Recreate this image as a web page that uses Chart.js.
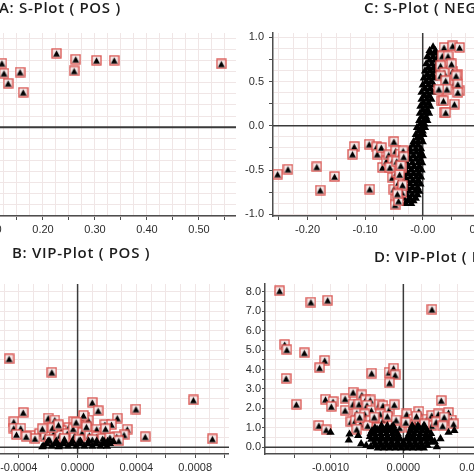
<!DOCTYPE html>
<html>
<head>
<meta charset="utf-8">
<script src="https://cdn.jsdelivr.net/npm/chart.js@4.4.1/dist/chart.umd.min.js"></script>
<style>
  html, body { margin: 0; padding: 0; background: #fff; }
  #page { position: relative; width: 474px; height: 474px; overflow: hidden; background: #fff; }
  canvas { position: absolute; }
  .title { position: absolute; font-family: "Open Sans", sans-serif; font-weight: 600; font-size: 15px; line-height: 15px; letter-spacing: 0.7px; color: #1c1c1c; white-space: nowrap; }
</style>
</head>
<body>
<div id="page">
  <canvas id="cvA" width="379" height="246" style="left:-143px;top:0px"></canvas>
  <canvas id="cvC" width="256" height="246" style="left:238px;top:0px"></canvas>
  <canvas id="cvB" width="299" height="244" style="left:-70px;top:240px"></canvas>
  <canvas id="cvD" width="261" height="244" style="left:235px;top:240px"></canvas>
  <div class="title" id="tA" style="left:-1px;top:0px"></div>
  <div class="title" id="tC" style="left:364px;top:0px"></div>
  <div class="title" id="tB" style="left:12px;top:245px"></div>
  <div class="title" id="tD" style="left:374px;top:249px"></div>
</div>
<script>
// panel titles (C and D run past the right edge of the picture)
const titles = ["A: S-Plot ( POS )", "B: VIP-Plot ( POS )", "C: S-Plot ( NEG )", "D: VIP-Plot ( NEG )"];

// A: S-plot POS, marked variables [p, p(corr)]
const aMarked = [
  [0.121, 0.72], [0.125, 0.607], [0.133, 0.494], [0.156, 0.62], [0.162, 0.393],
  [0.226, 0.832], [0.263, 0.765], [0.260, 0.633], [0.303, 0.753], [0.337, 0.753], [0.543, 0.712]
];

// C: S-plot NEG
const cMarked = [
  [-0.252, -0.546], [-0.234, -0.49], [-0.184, -0.464], [-0.178, -0.727], [-0.153, -0.573],
  [-0.119, -0.234], [-0.122, -0.32], [-0.093, -0.207], [-0.092, -0.716],
  [-0.080, -0.238], [-0.079, -0.32], [-0.072, -0.245], [-0.070, -0.47], [-0.063, -0.396], [-0.059, -0.328],
  [-0.050, -0.178], [-0.047, -0.283], [-0.052, -0.396], [-0.053, -0.585], [-0.045, -0.528], [-0.050, -0.716],
  [-0.042, -0.641], [-0.047, -0.83], [-0.048, -0.894], [-0.036, -0.754], [-0.039, -0.32], [-0.034, -0.283],
  [-0.036, -0.47], [-0.057, -0.47], [-0.042, -0.85], [-0.045, -0.40], [-0.040, -0.55], [-0.035, -0.67],
  [-0.038, -0.45], [-0.044, -0.77], [-0.033, -0.35],
  [0.037, 0.886], [0.052, 0.905], [0.064, 0.886], [0.034, 0.79], [0.046, 0.70], [0.031, 0.68],
  [0.052, 0.62], [0.037, 0.60], [0.031, 0.566], [0.040, 0.51], [0.061, 0.577], [0.056, 0.49],
  [0.042, 0.415], [0.028, 0.415], [0.033, 0.283], [0.055, 0.245], [0.037, 0.15], [0.064, 0.396],
  [0.044, 0.79], [0.050, 0.70], [0.058, 0.566], [0.061, 0.47], [0.036, 0.283], [0.040, 0.15], [0.061, 0.377]
];
const cBlack = [
  [0.018, 0.89],
  [0.012, 0.85], [0.022, 0.85], [0.013, 0.82], [0.023, 0.82],
  [0.008, 0.78], [0.018, 0.78], [0.027, 0.78], [0.012, 0.74], [0.021, 0.74],
  [0.006, 0.70], [0.016, 0.70], [0.025, 0.70], [0.010, 0.66], [0.019, 0.66],
  [0.004, 0.62], [0.013, 0.62], [0.022, 0.62], [0.008, 0.58], [0.017, 0.58],
  [0.002, 0.54], [0.011, 0.54], [0.020, 0.54], [0.006, 0.50], [0.015, 0.50],
  [0.000, 0.46], [0.010, 0.46], [0.019, 0.46], [0.004, 0.42], [0.013, 0.42],
  [-0.002, 0.38], [0.008, 0.38], [0.017, 0.38], [0.003, 0.34], [0.011, 0.34],
  [-0.002, 0.30], [0.007, 0.30], [0.015, 0.30], [0.001, 0.26], [0.010, 0.26],
  [-0.004, 0.22], [0.005, 0.22], [0.013, 0.22], [0.000, 0.18], [0.008, 0.18],
  [-0.005, 0.14], [0.004, 0.14], [0.011, 0.14], [-0.002, 0.10], [0.006, 0.10],
  [-0.006, 0.06], [0.002, 0.06], [0.008, 0.06], [-0.004, 0.02], [0.003, 0.02],
  [-0.010, -0.02], [-0.002, -0.02], [0.004, -0.02], [-0.007, -0.06], [0.000, -0.06],
  [-0.012, -0.10], [-0.004, -0.10], [0.001, -0.10], [-0.010, -0.14], [-0.003, -0.14],
  [-0.016, -0.18], [-0.008, -0.18], [0.000, -0.18], [-0.017, -0.22], [-0.008, -0.22],
  [-0.022, -0.26], [-0.012, -0.26], [-0.003, -0.26], [-0.021, -0.30], [-0.011, -0.30], [-0.003, -0.30],
  [-0.026, -0.34], [-0.016, -0.34], [-0.006, -0.34], [0.000, -0.34],
  [-0.022, -0.38], [-0.012, -0.38], [-0.004, -0.38],
  [-0.028, -0.42], [-0.018, -0.42], [-0.008, -0.42], [-0.001, -0.42],
  [-0.025, -0.46], [-0.015, -0.46], [-0.006, -0.46],
  [-0.030, -0.50], [-0.020, -0.50], [-0.010, -0.50], [-0.002, -0.50],
  [-0.026, -0.54], [-0.016, -0.54], [-0.007, -0.54],
  [-0.031, -0.58], [-0.021, -0.58], [-0.011, -0.58], [-0.003, -0.58],
  [-0.027, -0.62], [-0.017, -0.62], [-0.008, -0.62],
  [-0.032, -0.66], [-0.022, -0.66], [-0.012, -0.66], [-0.004, -0.66],
  [-0.028, -0.70], [-0.018, -0.70], [-0.009, -0.70],
  [-0.033, -0.74], [-0.023, -0.74], [-0.013, -0.74], [-0.006, -0.74],
  [-0.028, -0.78], [-0.018, -0.78], [-0.009, -0.78],
  [-0.033, -0.82], [-0.022, -0.82], [-0.012, -0.82],
  [-0.026, -0.85], [-0.016, -0.85],
  [-0.030, -0.88], [-0.020, -0.88]
];

// B: VIP-plot POS [p, VIP]
const bMarked = [
  [-4.66e-4, 4.55], [-1.75e-4, 3.86], [1.0e-4, 2.31], [1.4e-4, 1.88], [7.88e-4, 2.43], [3.97e-4, 1.96],
  [-3.7e-4, 1.79], [-4.34e-4, 1.31], [-4.34e-4, 0.98], [-3.87e-4, 0.98], [-4.16e-4, 0.66],
  [-2.0e-4, 1.50], [-1.55e-4, 1.40], [-0.25e-4, 1.33], [0.04e-4, 1.28], [0.5e-4, 1.54], [0.72e-4, 1.40],
  [2.7e-4, 1.50], [1.86e-4, 1.17], [2.3e-4, 1.17], [3.38e-4, 0.93], [3.16e-4, 0.64], [2.66e-4, 0.54],
  [2.8e-4, 0.33], [4.6e-4, 0.54], [9.17e-4, 0.43], [-0.6e-4, 1.02], [-1.1e-4, 0.85], [1.3e-4, 0.93],
  [1.8e-4, 0.76], [-3.2e-4, 0.60], [-2.6e-4, 0.70], [-2.2e-4, 0.55], [-1.6e-4, 0.75], [-1.2e-4, 0.60],
  [-0.7e-4, 0.70], [-0.2e-4, 0.60], [0.3e-4, 0.75], [0.8e-4, 0.62], [1.3e-4, 0.55], [-2.9e-4, 0.45],
  [-1.9e-4, 0.40], [-0.9e-4, 0.45], [0.1e-4, 0.40], [1.0e-4, 0.40], [1.7e-4, 0.45], [2.2e-4, 0.50],
  [-2.4e-4, 0.95], [-1.7e-4, 1.0], [0.6e-4, 1.05], [-0.3e-4, 0.95], [1.9e-4, 0.95], [-3.5e-4, 0.55],
  [-1.3e-4, 1.15], [0.4e-4, 1.64], [-0.1e-4, 1.29]
];
const bBlack = [
  [-2.4e-4, 0.02], [2.43e-4, 0.29], [2.04e-4, 0.29], [-1.3e-4, 0.02],
  [-2.3e-4, 0.05], [-1.75e-4, 0.05], [-1.2e-4, 0.05], [-0.65e-4, 0.05], [-0.1e-4, 0.05],
  [0.45e-4, 0.05], [1.0e-4, 0.05], [1.55e-4, 0.05], [2.0e-4, 0.05],
  [-2.1e-4, 0.18], [-1.5e-4, 0.18], [-0.95e-4, 0.18], [-0.4e-4, 0.18], [0.15e-4, 0.18],
  [0.7e-4, 0.18], [1.25e-4, 0.18], [1.75e-4, 0.18], [2.2e-4, 0.18],
  [-2.0e-4, 0.3], [-1.45e-4, 0.3], [-0.9e-4, 0.3], [-0.35e-4, 0.3], [0.2e-4, 0.3],
  [0.75e-4, 0.3], [1.3e-4, 0.3], [1.8e-4, 0.3]
];

// D: VIP-plot NEG
const dMarked = [
  [-17.0e-4, 8.05], [-12.7e-4, 7.47], [-10.4e-4, 7.57], [3.93e-4, 7.10], [-16.3e-4, 5.29], [-16.0e-4, 5.02],
  [-13.6e-4, 4.86], [-10.8e-4, 4.47], [-11.5e-4, 4.09], [-16.1e-4, 3.54], [-14.7e-4, 2.21], [-10.7e-4, 2.47],
  [-9.66e-4, 2.35], [-9.9e-4, 2.10], [-11.6e-4, 1.12], [-10.6e-4, 0.90], [-8.0e-4, 2.50], [-8.0e-4, 1.90],
  [-6.9e-4, 2.83], [-6.9e-4, 2.22], [-5.7e-4, 2.69], [-6.1e-4, 2.22], [-5.2e-4, 2.43], [-4.55e-4, 2.43],
  [-5.0e-4, 2.16], [-4.4e-4, 1.90], [-4.35e-4, 3.81], [-1.97e-4, 3.86], [-1.34e-4, 4.07], [-1.13e-4, 3.72],
  [-1.92e-4, 3.31], [-3.3e-4, 2.22], [-2.8e-4, 2.14], [-1.97e-4, 1.92], [-1.25e-4, 2.19], [-6.4e-4, 1.76],
  [-5.3e-4, 1.71], [-7.2e-4, 1.31], [-6.6e-4, 1.37], [-5.9e-4, 1.19], [-4.5e-4, 1.37], [-3.6e-4, 1.45],
  [-2.8e-4, 1.37], [-3.2e-4, 1.71], [-4.9e-4, 1.11], [-3.6e-4, 1.02], [-2.4e-4, 1.02], [-1.5e-4, 1.19],
  [-0.5e-4, 1.00], [-6.4e-4, 0.93], [0.46e-4, 1.71], [1.38e-4, 1.45], [2.13e-4, 1.85], [2.6e-4, 1.37],
  [3.26e-4, 1.45], [3.9e-4, 1.64], [4.8e-4, 1.71], [5.2e-4, 2.41], [6.2e-4, 1.79], [6.6e-4, 1.40],
  [1.6e-4, 1.19], [0.97e-4, 1.02], [3.9e-4, 1.11], [0.34e-4, 1.28], [-6.0e-4, 1.55], [-4.0e-4, 1.55],
  [-2.2e-4, 1.60], [-1.0e-4, 1.40], [1.8e-4, 1.60], [2.9e-4, 1.20], [4.5e-4, 1.30], [5.6e-4, 1.55],
  [6.9e-4, 1.20], [5.4e-4, 1.10]
];
const dBlack = [
  [-10.0e-4, 0.76], [-7.5e-4, 0.36], [-7.4e-4, 0.67], [-6.2e-4, 0.60], [-5.8e-4, 0.17], [-5.1e-4, 0.09],
  [-4.5e-4, 0.02], [4.6e-4, 0.02], [5.1e-4, 0.43], [3.8e-4, 0.43], [6.2e-4, 0.76], [7.0e-4, 0.86], [4.3e-4, 0.29],
  [-3.5e-4, -0.05], [-2.7e-4, -0.05], [-1.9e-4, -0.05], [-1.1e-4, -0.05], [-0.3e-4, -0.05],
  [0.5e-4, -0.05], [1.3e-4, -0.05], [2.1e-4, -0.05], [2.8e-4, -0.05],
  [-3.9e-4, 0.1], [-3.1e-4, 0.1], [-2.3e-4, 0.1], [-1.5e-4, 0.1], [-0.7e-4, 0.1],
  [0.1e-4, 0.1], [0.9e-4, 0.1], [1.7e-4, 0.1], [2.5e-4, 0.1], [3.3e-4, 0.1],
  [-4.0e-4, 0.25], [-3.2e-4, 0.25], [-2.4e-4, 0.25], [-1.6e-4, 0.25], [-0.8e-4, 0.25], [0.0, 0.25],
  [0.8e-4, 0.25], [1.6e-4, 0.25], [2.4e-4, 0.25], [3.2e-4, 0.25], [3.9e-4, 0.25],
  [-4.4e-4, 0.4], [-3.6e-4, 0.4], [-2.8e-4, 0.4], [-2.0e-4, 0.4], [-1.2e-4, 0.4], [-0.4e-4, 0.4],
  [0.4e-4, 0.4], [1.2e-4, 0.4], [2.0e-4, 0.4], [2.8e-4, 0.4], [3.6e-4, 0.4],
  [-4.6e-4, 0.55], [-3.8e-4, 0.55], [-3.0e-4, 0.55], [-2.2e-4, 0.55], [-1.4e-4, 0.55], [-0.7e-4, 0.55],
  [0.7e-4, 0.55], [1.4e-4, 0.55], [2.2e-4, 0.55], [3.0e-4, 0.55], [3.6e-4, 0.55],
  [-4.5e-4, 0.7], [-3.9e-4, 0.7], [-3.1e-4, 0.7], [-2.3e-4, 0.7], [-1.5e-4, 0.7], [-0.8e-4, 0.7],
  [0.8e-4, 0.7], [1.5e-4, 0.7], [2.3e-4, 0.7], [3.1e-4, 0.7], [3.8e-4, 0.7],
  [-4.3e-4, 0.85], [-3.5e-4, 0.85], [-2.7e-4, 0.85], [-1.9e-4, 0.85], [-1.1e-4, 0.85],
  [1.0e-4, 0.85], [1.8e-4, 0.85], [2.6e-4, 0.85], [3.3e-4, 0.85],
  [-3.9e-4, 1.0], [-3.1e-4, 1.0], [-2.3e-4, 1.0], [-1.6e-4, 1.0], [1.4e-4, 1.0], [2.2e-4, 1.0], [3.0e-4, 1.0],
  [-3.0e-4, 1.1], [-2.2e-4, 1.1], [-1.4e-4, 1.1], [1.2e-4, 1.1], [2.0e-4, 1.1], [2.8e-4, 1.1]
];

function onStep(v, step) {
    const r = v / step;
    return Math.abs(r - Math.round(r)) < 1e-6;
}

// dark cross-hair lines through 0, drawn over the grid but under the points
const zeroLines = {
    id: "zeroLines",
    beforeDatasetsDraw(chart, args, opts) {
        const ctx = chart.ctx;
        const a = chart.chartArea;
        const x = chart.scales.x;
        const y = chart.scales.y;
        ctx.save();
        ctx.strokeStyle = "#3a3a3a";
        ctx.lineWidth = opts.width || 1.5;
        ctx.beginPath();
        if (x.min < 0 && x.max > 0) {
            const px = x.getPixelForValue(0);
            ctx.moveTo(px, a.top);
            ctx.lineTo(px, a.bottom);
        }
        if (y.min < 0 && y.max > 0) {
            const py = y.getPixelForValue(0);
            ctx.moveTo(a.left, py);
            ctx.lineTo(a.right, py);
        }
        ctx.stroke();
        ctx.restore();
    }
};

// red-framed square with a black triangle, used for the marked variables
function makeMarker() {
    const c = document.createElement("canvas");
    c.width = 11;
    c.height = 11;
    const g = c.getContext("2d");
    g.fillStyle = "#f4e6e6";
    g.fillRect(1, 1, 9, 9);
    g.strokeStyle = "#d9524e";
    g.lineWidth = 1.3;
    g.strokeRect(1, 1, 9, 9);
    g.fillStyle = "#000";
    g.beginPath();
    g.moveTo(5.5, 2.6);
    g.lineTo(8.9, 8.7);
    g.lineTo(2.1, 8.7);
    g.closePath();
    g.fill();
    return c;
}
const marker = makeMarker();

function markedSet(pairs) {
    return {
        data: pairs.map(p => ({x: p[0], y: p[1]})),
        pointStyle: marker,
        pointRadius: 5
    };
}

function blackSet(pairs) {
    return {
        data: pairs.map(p => ({x: p[0], y: p[1]})),
        pointStyle: "triangle",
        pointRadius: 4.8,
        backgroundColor: "#000",
        borderColor: "#000",
        borderWidth: 0
    };
}

function linAxis(o) {
    const zero = o.zero !== undefined ? o.zero : (0).toFixed(o.digits);
    return {
        type: "linear",
        min: o.min,
        max: o.max,
        afterFit: function (scale) {
            if (scale.isHorizontal()) scale.height = o.size;
            else scale.width = o.size;
        },
        border: {display: true, color: "#4d4d4d", width: 1.5},
        grid: {
            color: "#f0e6e6",
            lineWidth: 1,
            tickLength: o.tick,
            tickWidth: 1,
            tickColor: c => (c.tick && onStep(c.tick.value, o.mark)) ? "#4d4d4d" : "rgba(0,0,0,0)"
        },
        ticks: {
            stepSize: o.step,
            autoSkip: false,
            includeBounds: false,
            maxRotation: 0,
            minRotation: 0,
            padding: o.pad,
            color: "#2e2e2e",
            font: {family: "Liberation Sans", size: 11},
            callback: v => !onStep(v, o.label) ? "" : (Math.abs(v) < 1e-12 ? zero : v.toFixed(o.digits))
        }
    };
}

function makePanel(id, padTop, lineWidth, xAxis, yAxis, datasets) {
    return new Chart(document.getElementById(id), {
        type: "scatter",
        data: {datasets: datasets},
        options: {
            responsive: false,
            animation: false,
            devicePixelRatio: 1,
            events: [],
            layout: {padding: {top: padTop, left: 0, right: 0, bottom: 0}, autoPadding: false},
            plugins: {legend: {display: false}, tooltip: {enabled: false}, zeroLines: {width: lineWidth}},
            scales: {x: xAxis, y: yAxis}
        },
        plugins: [zeroLines]
    });
}

document.getElementById("tA").textContent = titles[0];
document.getElementById("tB").textContent = titles[1];
document.getElementById("tC").textContent = titles[2];
document.getElementById("tD").textContent = titles[3];

makePanel("cvA", 33, 2,
    linAxis({min: -0.1, max: 0.5712, step: 0.025, label: 0.1, mark: 0.05, digits: 2, size: 30, tick: 4, pad: 3}),
    linAxis({min: -1.0, max: 1.06, step: 0.125, label: 0.5, mark: 0.25, digits: 1, size: 30, tick: 4, pad: 5}),
    [markedSet(aMarked)]);

makePanel("cvC", 33, 1.5,
    linAxis({min: -0.26, max: 0.1, step: 0.025, label: 0.1, mark: 0.05, digits: 2, zero: "-0.00", size: 30, tick: 4, pad: 3}),
    linAxis({min: -1.02, max: 1.05, step: 0.125, label: 0.5, mark: 0.25, digits: 1, size: 35, tick: 4, pad: 5}),
    [markedSet(cMarked), blackSet(cBlack)]);

makePanel("cvB", 44, 1.5,
    linAxis({min: -0.0008, max: 0.00103, step: 0.0001, label: 0.0004, mark: 0.0002, digits: 4, size: 30, tick: 4, pad: 3}),
    linAxis({min: -0.35, max: 8.4, step: 0.5, label: 1, mark: 0.5, digits: 1, size: 30, tick: 3, pad: 1}),
    [blackSet(bBlack), markedSet(bMarked)]);

makePanel("cvD", 44, 1.5,
    linAxis({min: -0.0019, max: 0.001, step: 0.00025, label: 0.001, mark: 0.0005, digits: 4, size: 30, tick: 4, pad: 3}),
    linAxis({min: -0.35, max: 8.4, step: 0.5, label: 1, mark: 0.5, digits: 1, size: 30, tick: 3, pad: 1}),
    [blackSet(dBlack), markedSet(dMarked)]);
</script>
</body>
</html>
